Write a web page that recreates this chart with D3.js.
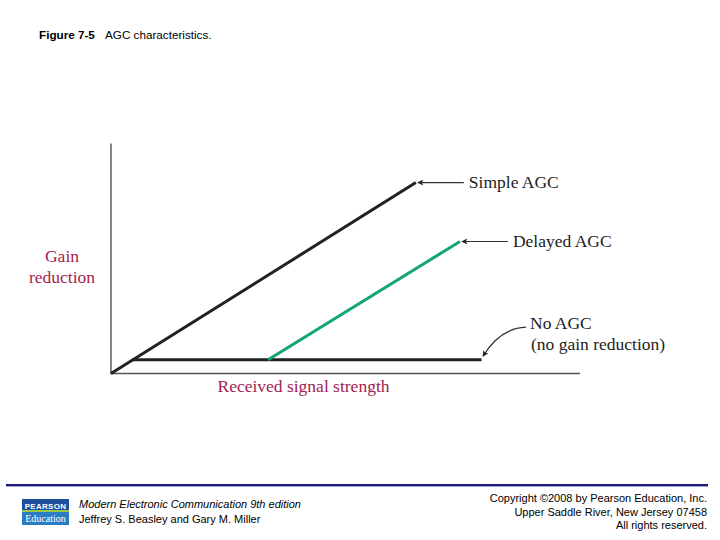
<!DOCTYPE html>
<html><head><meta charset="utf-8">
<script src="https://cdn.jsdelivr.net/npm/d3@7"></script>
<style>html,body{margin:0;padding:0;background:#fff;}svg{display:block;}</style>
</head><body>
<script>
// ---- data (arbitrary units: received signal strength 0..100, gain reduction 0..100)
const simpleAGC  = [{x:0, y:0}, {x:65, y:83}];
const delayedAGC = [{x:33.5, y:6}, {x:74.4, y:57.4}];
const noAGC      = [{x:4.5, y:6}, {x:79, y:6}];
const seriesLabels = ["Simple AGC", "Delayed AGC", "No AGC", "(no gain reduction)"];
const axisLabels = {x:"Received signal strength", y:["Gain","reduction"]};

const W = 720, H = 540;
const svg = d3.select("body").append("svg").attr("width", W).attr("height", H);

const serif = "'Liberation Serif','Times New Roman',serif";
const sans = "'Liberation Sans',Arial,sans-serif";
const maroon = "#a02350";

// title
const t = svg.append("text").attr("x", 39).attr("y", 38.5).attr("font-family", sans).attr("font-size", 11.7).attr("fill", "#000");
t.append("tspan").attr("font-weight", "bold").text("Figure 7-5");
t.append("tspan").attr("x", 105).text("AGC characteristics.");

// scales
const x = d3.scaleLinear().domain([0, 100]).range([111, 580]);
const y = d3.scaleLinear().domain([0, 100]).range([373.5, 143.5]);

// axes (plain lines, no ticks)
svg.append("line").attr("x1", x(0)).attr("x2", x(0)).attr("y1", y(100)).attr("y2", y(0) + 0.8)
  .attr("stroke", "#555").attr("stroke-width", 1.4);
svg.append("line").attr("x1", x(0)).attr("x2", x(100)).attr("y1", y(0)).attr("y2", y(0))
  .attr("stroke", "#555").attr("stroke-width", 1.4);

const line = d3.line().x(d => x(d.x)).y(d => y(d.y));
svg.append("path").datum(noAGC).attr("d", line).attr("stroke", "#222").attr("stroke-width", 3).attr("fill", "none");
svg.append("path").datum(simpleAGC).attr("d", line).attr("stroke", "#222").attr("stroke-width", 3).attr("fill", "none");
svg.append("path").datum(delayedAGC).attr("d", line).attr("stroke", "#10a574").attr("stroke-width", 3).attr("fill", "none");

// arrowhead marker
const defs = svg.append("defs");
defs.append("marker").attr("id", "ah").attr("viewBox", "0 0 10 10").attr("refX", 9).attr("refY", 5)
  .attr("markerWidth", 9).attr("markerHeight", 6).attr("markerUnits", "userSpaceOnUse").attr("orient", "auto")
  .append("path").attr("d", "M0,0 L10,5 L0,10 L2.5,5 Z").attr("fill", "#222");

function straightLabel(pt, text) {
  const tip = x(pt.x) + 2, yy = y(pt.y);
  svg.append("line").attr("x1", tip + 46).attr("y1", yy).attr("x2", tip).attr("y2", yy)
    .attr("stroke", "#333").attr("stroke-width", 1.2).attr("marker-end", "url(#ah)");
  svg.append("text").attr("x", tip + 51).attr("y", yy + 5.5).attr("font-family", serif)
    .attr("font-size", 17.5).attr("fill", "#222").text(text);
}
straightLabel(simpleAGC[1], seriesLabels[0]);
straightLabel(delayedAGC[1], seriesLabels[1]);

// curved arrow for No AGC
const endN = noAGC[1];
const tx = x(endN.x) + 1.5, ty = y(endN.y) - 2.5;
svg.append("path").attr("d", `M${tx + 43},${ty - 30} Q${tx + 17},${ty - 29} ${tx},${ty - 1}`)
  .attr("stroke", "#333").attr("stroke-width", 1.2).attr("fill", "none").attr("marker-end", "url(#ah)");
svg.append("text").attr("x", tx + 47).attr("y", ty - 28.5).attr("font-family", serif)
  .attr("font-size", 17.5).attr("fill", "#222").text(seriesLabels[2]);
svg.append("text").attr("x", tx + 48).attr("y", ty - 7.5).attr("font-family", serif)
  .attr("font-size", 17.5).attr("fill", "#222").text(seriesLabels[3]);

// axis labels
svg.append("text").attr("x", (x(0) + x(100)) / 2 - 42).attr("y", 392).attr("text-anchor", "middle")
  .attr("font-family", serif).attr("font-size", 17.5).attr("fill", maroon).text(axisLabels.x);
axisLabels.y.forEach((s, i) => {
  svg.append("text").attr("x", 62).attr("y", 262 + i * 21).attr("text-anchor", "middle")
    .attr("font-family", serif).attr("font-size", 17.5).attr("fill", maroon).text(s);
});

// footer
svg.append("rect").attr("x", 6).attr("y", 484).attr("width", 702).attr("height", 2.4).attr("fill", "#1c1c78");
const logo = svg.append("g").attr("transform", "translate(22,499)");
logo.append("rect").attr("width", 47).attr("height", 12).attr("fill", "#1d4f9a");
logo.append("rect").attr("y", 11).attr("width", 47).attr("height", 2).attr("fill", "#9cc84a");
logo.append("rect").attr("y", 13).attr("width", 47).attr("height", 13).attr("fill", "#2c7cc4");
logo.append("text").attr("x", 23.5).attr("y", 9.5).attr("text-anchor", "middle").attr("font-family", sans)
  .attr("font-weight", "bold").attr("font-size", 8).attr("fill", "#fff").attr("letter-spacing", 0.3).text("PEARSON");
logo.append("text").attr("x", 23.5).attr("y", 23).attr("text-anchor", "middle").attr("font-family", serif)
  .attr("font-size", 10).attr("fill", "#fff").text("Education");

svg.append("text").attr("x", 79).attr("y", 508).attr("font-family", sans).attr("font-style", "italic")
  .attr("font-size", 11).attr("fill", "#000").text("Modern Electronic Communication 9th edition");
svg.append("text").attr("x", 79).attr("y", 523).attr("font-family", sans)
  .attr("font-size", 11).attr("fill", "#000").text("Jeffrey S. Beasley and Gary M. Miller");

["Copyright \u00a92008 by Pearson Education, Inc.", "Upper Saddle River, New Jersey 07458", "All rights reserved."]
  .forEach((s, i) => {
    svg.append("text").attr("x", 707).attr("y", 502 + i * 13.5).attr("text-anchor", "end")
      .attr("font-family", sans).attr("font-size", 11).attr("fill", "#000").text(s);
  });
</script>
</body></html>
